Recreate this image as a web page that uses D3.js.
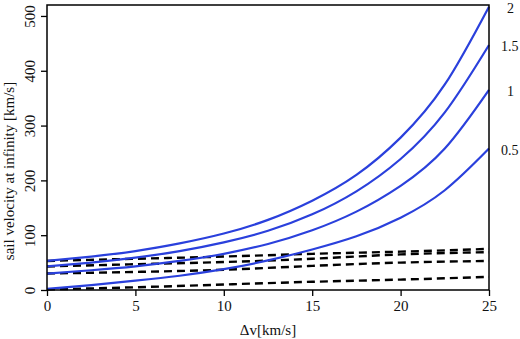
<!DOCTYPE html>
<html lang="en">
<head>
    <meta charset="UTF-8">
    <title>Sail velocity at infinity</title>
    <script src="https://d3js.org/d3.v7.min.js"></script>
    <style>
        body { margin: 0; background: white; }
    </style>
</head>
<body>
    <svg id="chart" width="520" height="339"></svg>
    <script>
        // Data
        const dv = [0, 2.5, 5, 7.5, 10, 12.5, 15, 17.5, 20, 22.5, 25];
        const curveLabels = ["2", "1.5", "1", "0.5"];
        const solidSeries = [
            [53, 61, 71, 85, 103, 128, 163, 210, 278, 375, 517],
            [43, 50, 59, 71, 87, 108, 138, 180, 239, 324, 447],
            [30, 36, 43, 53, 66, 84, 109, 143, 190, 258, 365],
            [2, 9, 17, 26, 38, 54, 74, 98, 132, 182, 258]
        ];
        const dashedSeries = [
            [53, 57, 61, 66, 70, 75],
            [43, 47, 51, 57, 65, 69],
            [30, 33, 37, 44, 50, 53],
            [1, 5, 10, 15, 19, 24]
        ];
        const dashedDv = [0, 5, 10, 15, 20, 25];
        const xTicks = [0, 5, 10, 15, 20, 25];
        const yTicks = [0, 100, 200, 300, 400, 500];

        const serif = '"Liberation Serif", "DejaVu Serif", serif';

        const margin = {top: 5, right: 31, bottom: 49, left: 47};
        const width = 520, height = 339;

        const svg = d3.select("#chart");

        const x = d3.scaleLinear().domain([0, 25]).range([margin.left, width - margin.right]);
        const y = d3.scaleLinear().domain([0, 520]).range([height - margin.bottom, margin.top]);

        const line = d3.line()
            .x(d => x(d[0]))
            .y(d => y(d[1]))
            .curve(d3.curveNatural);

        // dashed lines
        svg.append("g").selectAll("path")
            .data(dashedSeries)
            .enter()
            .append("path")
            .attr("d", s => line(s.map((v, i) => [dashedDv[i], v])))
            .attr("fill", "none")
            .attr("stroke", "#000")
            .attr("stroke-width", 2.4)
            .attr("stroke-dasharray", "8,5");

        // solid blue curves
        svg.append("g").selectAll("path")
            .data(solidSeries)
            .enter()
            .append("path")
            .attr("d", s => line(s.map((v, i) => [dv[i], v])))
            .attr("fill", "none")
            .attr("stroke", "#2a40dc")
            .attr("stroke-width", 2.2);

        // frame
        svg.append("rect")
            .attr("x", x(0))
            .attr("y", margin.top)
            .attr("width", x(25) - x(0))
            .attr("height", height - margin.bottom - margin.top)
            .attr("fill", "none")
            .attr("stroke", "#000")
            .attr("stroke-width", 1.5);

        // axes
        const xAxis = svg.append("g")
            .attr("transform", `translate(0,${height - margin.bottom})`)
            .call(d3.axisBottom(x).tickValues(xTicks).tickSize(6).tickSizeOuter(0).tickPadding(4));
        xAxis.select(".domain").remove();
        xAxis.attr("font-family", null).attr("font-size", null);
        xAxis.selectAll("line").attr("stroke", "#000").attr("stroke-width", 1.3);
        xAxis.selectAll("text")
            .style("font-family", serif)
            .style("font-size", "15px")
            .attr("fill", "#111");

        const yAxis = svg.append("g")
            .attr("transform", `translate(${margin.left},0)`)
            .call(d3.axisLeft(y).tickValues(yTicks).tickSize(6).tickSizeOuter(0));
        yAxis.select(".domain").remove();
        yAxis.attr("font-family", null).attr("font-size", null);
        yAxis.selectAll("line").attr("stroke", "#000").attr("stroke-width", 1.3);
        yAxis.selectAll("text")
            .attr("x", null).attr("dy", null)
            .attr("text-anchor", "middle")
            .attr("transform", "translate(-12,0) rotate(-90)")
            .style("font-family", serif)
            .style("font-size", "15px")
            .attr("fill", "#111");

        // curve labels at right end
        svg.append("g").selectAll("text")
            .data(solidSeries)
            .enter()
            .append("text")
            .attr("x", (s, i) => curveLabels[i].length > 1 ? 501 : 507)
            .attr("y", s => y(s[s.length - 1]) + 6)
            .style("font-family", serif)
            .style("font-size", "14px")
            .attr("fill", "#111")
            .text((s, i) => curveLabels[i]);

        // axis titles
        svg.append("text")
            .attr("x", (x(0) + x(25)) / 2)
            .attr("y", 335)
            .attr("text-anchor", "middle")
            .style("font-family", serif)
            .style("font-size", "15px")
            .attr("fill", "#111")
            .text("Δv[km/s]");

        svg.append("text")
            .attr("transform", "translate(14,171) rotate(-90)")
            .attr("text-anchor", "middle")
            .style("font-family", serif)
            .style("font-size", "15px")
            .attr("fill", "#111")
            .text("sail velocity at infinity [km/s]");
    </script>
</body>
</html>
